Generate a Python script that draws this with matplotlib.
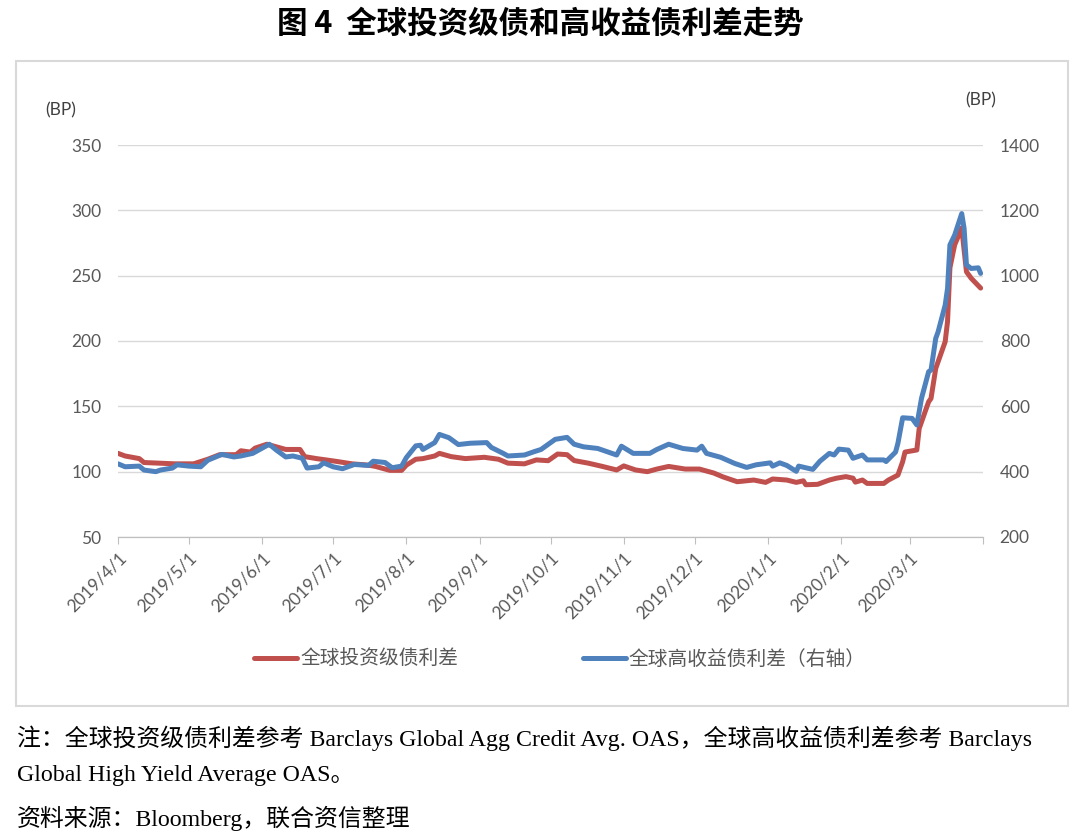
import pandas as pd
import matplotlib.pyplot as plt
from matplotlib.patches import Rectangle
from matplotlib.lines import Line2D

plt.rcParams['font.family'] = ['Lato', 'Noto Sans CJK SC', 'DejaVu Sans']

# 全球投资级债利差 (left axis, BP)
ig_dates = ["2019-04-01", "2019-04-04", "2019-04-10", "2019-04-12", "2019-04-25", "2019-05-03",
            "2019-05-09", "2019-05-14", "2019-05-21", "2019-05-23", "2019-05-27", "2019-05-29",
            "2019-06-03", "2019-06-07", "2019-06-11", "2019-06-17", "2019-06-19", "2019-06-24",
            "2019-06-28", "2019-07-03", "2019-07-09", "2019-07-16", "2019-07-19", "2019-07-25",
            "2019-07-30", "2019-08-01", "2019-08-05", "2019-08-08", "2019-08-13", "2019-08-15",
            "2019-08-20", "2019-08-26", "2019-09-03", "2019-09-09", "2019-09-13", "2019-09-20",
            "2019-09-25", "2019-09-30", "2019-10-04", "2019-10-08", "2019-10-11", "2019-10-17",
            "2019-10-23", "2019-10-29", "2019-11-01", "2019-11-06", "2019-11-11", "2019-11-15",
            "2019-11-20", "2019-11-27", "2019-12-03", "2019-12-09", "2019-12-13", "2019-12-19",
            "2019-12-26", "2019-12-31", "2020-01-03", "2020-01-09", "2020-01-13", "2020-01-16",
            "2020-01-17", "2020-01-22", "2020-01-27", "2020-01-30", "2020-02-03", "2020-02-06",
            "2020-02-07", "2020-02-10", "2020-02-12", "2020-02-19", "2020-02-21", "2020-02-25",
            "2020-02-27", "2020-02-28", "2020-03-04", "2020-03-05", "2020-03-09", "2020-03-10",
            "2020-03-12", "2020-03-16", "2020-03-17", "2020-03-18", "2020-03-20", "2020-03-23",
            "2020-03-25", "2020-03-27", "2020-03-31"]
ig_values = [114, 112, 110, 107, 106, 106,
             109.5, 113, 113, 116, 115, 118,
             121, 119, 117, 117, 111.5, 110,
             109, 107.7, 106, 105, 104, 101,
             101, 105, 109.5, 110, 112, 114,
             111.5, 110, 111, 109.5, 106.5, 106,
             109, 108.4, 113.5, 113, 108.5, 106.5,
             104, 101.3, 104.4, 101.3, 100, 102,
             104, 102, 102, 99, 96, 92.3,
             93.6, 91.8, 94.4, 93.6, 91.8, 93,
             90, 90.3, 93.6, 95, 96.2, 95,
             92, 93.6, 91, 91, 93.6, 97.4,
             107.6, 115, 116.6, 133, 153.5, 156,
             179, 199.5, 215, 256, 273.5, 286.5,
             253, 248, 240.5]

# 全球高收益债利差 (right axis, BP)
hy_dates = ["2019-04-01", "2019-04-04", "2019-04-10", "2019-04-12", "2019-04-17", "2019-04-19",
            "2019-04-24", "2019-04-26", "2019-05-01", "2019-05-06", "2019-05-09", "2019-05-15",
            "2019-05-20", "2019-05-23", "2019-05-28", "2019-05-31", "2019-06-04", "2019-06-07",
            "2019-06-11", "2019-06-14", "2019-06-18", "2019-06-20", "2019-06-25", "2019-06-27",
            "2019-07-01", "2019-07-05", "2019-07-10", "2019-07-16", "2019-07-18", "2019-07-23",
            "2019-07-26", "2019-07-30", "2019-08-01", "2019-08-05", "2019-08-07", "2019-08-08",
            "2019-08-13", "2019-08-15", "2019-08-19", "2019-08-23", "2019-08-28", "2019-09-04",
            "2019-09-06", "2019-09-11", "2019-09-13", "2019-09-20", "2019-09-24", "2019-09-27",
            "2019-10-03", "2019-10-08", "2019-10-11", "2019-10-15", "2019-10-21", "2019-10-25",
            "2019-10-29", "2019-10-31", "2019-11-05", "2019-11-12", "2019-11-15", "2019-11-20",
            "2019-11-26", "2019-12-02", "2019-12-04", "2019-12-06", "2019-12-12", "2019-12-18",
            "2019-12-23", "2019-12-27", "2020-01-02", "2020-01-03", "2020-01-06", "2020-01-09",
            "2020-01-13", "2020-01-14", "2020-01-20", "2020-01-23", "2020-01-27", "2020-01-29",
            "2020-01-31", "2020-02-04", "2020-02-06", "2020-02-10", "2020-02-12", "2020-02-19",
            "2020-02-20", "2020-02-24", "2020-02-25", "2020-02-27", "2020-03-02", "2020-03-04",
            "2020-03-06", "2020-03-09", "2020-03-10", "2020-03-12", "2020-03-13", "2020-03-16",
            "2020-03-17", "2020-03-18", "2020-03-20", "2020-03-23", "2020-03-24", "2020-03-25",
            "2020-03-27", "2020-03-30", "2020-03-31"]
hy_values = [424, 415, 417, 405, 400, 405,
             411, 421, 417, 415, 435, 453,
             445, 448, 456, 468, 484, 466,
             445, 448, 441, 411, 415, 427,
             415, 409, 422, 419, 432, 428,
             412, 417, 443, 479, 481, 468,
             489, 514, 504, 483, 487, 489,
             474, 456, 448, 451, 461, 468,
             499, 505, 484, 476, 471, 461,
             451, 478, 456, 456, 468, 484,
             471, 466, 478, 456, 444, 425,
             413, 421, 427, 417, 427, 419,
             401, 417, 407, 432, 456, 451,
             469, 466, 441, 451, 436, 436,
             431, 460, 487, 565, 563, 543,
             625, 706, 711, 808, 828, 910,
             961, 1094, 1124, 1190, 1145, 1033,
             1022, 1024, 1007]

month_ticks = pd.date_range("2019-04-01", "2020-04-01", freq="MS")
tick_labels = [f"{d.year}/{d.month}/1" for d in month_ticks[:-1]] + [""]

red = '#C0504D'
blue = '#4F81BD'
grey = '#595959'

fig = plt.figure(figsize=(10.8, 8.4), dpi=100)
fig.patches.append(Rectangle((16/1080, 1-706/840), 1052/1080, 645/840, transform=fig.transFigure,
                             fill=False, edgecolor='#D9D9D9', lw=1.5))

ax = fig.add_axes([118/1080, 1-537/840, 865/1080, 392/840])
ax2 = ax.twinx()

ax.plot(pd.to_datetime(ig_dates), ig_values, color=red, lw=3.6, solid_capstyle='round')
ax2.plot(pd.to_datetime(hy_dates), hy_values, color=blue, lw=3.6, solid_capstyle='round')

ax.set_xlim(month_ticks[0], month_ticks[-1])
ax.set_ylim(50, 350)
ax2.set_ylim(200, 1400)
ax.set_yticks(range(50, 351, 50))
ax2.set_yticks(range(200, 1401, 200))
ax.set_xticks(month_ticks)
ax.set_xticklabels(tick_labels, rotation=45, ha='right', rotation_mode='anchor')

ax.grid(axis='y', color='#D9D9D9', lw=1)
ax.set_axisbelow(True)
for a in (ax, ax2):
    for s in ('left', 'right', 'top'):
        a.spines[s].set_visible(False)
    a.spines['bottom'].set_color('#BFBFBF')
ax.tick_params(axis='y', length=0, pad=12, labelsize=12.5, labelcolor=grey)
ax2.tick_params(axis='y', length=0, pad=12, labelsize=12.5, labelcolor=grey)
ax.tick_params(axis='x', length=5, color='#BFBFBF', labelsize=12.5, labelcolor=grey, pad=4)

fig.text(45/1080, 1-110/840, "(BP)", fontsize=12.5, color='#404040', va='center')
fig.text(965/1080, 1-100/840, "(BP)", fontsize=12.5, color='#404040', va='center')

handles = [Line2D([], [], color=red, lw=3.6, solid_capstyle='round'),
           Line2D([], [], color=blue, lw=3.6, solid_capstyle='round')]
leg = fig.legend(handles, ["全球投资级债利差", "全球高收益债利差（右轴）"], ncol=2, frameon=False,
                 loc='center', bbox_to_anchor=(560/1080, 1-659/840), handlelength=2.2,
                 handletextpad=0.15, columnspacing=6.3,
                 prop={'family': 'Noto Sans CJK SC', 'size': 14.2})
for t in leg.get_texts():
    t.set_color(grey)

fig.text(540/1080, 1-24/840, "图 4  全球投资级债和高收益债利差走势", ha='center', va='center',
         fontsize=22, fontweight='bold', family=['Noto Sans CJK SC'])

note_font = ['Liberation Serif', 'Noto Sans CJK SC']
fig.text(17/1080, 1-738/840,
         "注：全球投资级债利差参考 Barclays Global Agg Credit Avg. OAS，全球高收益债利差参考 Barclays",
         fontsize=17.2, family=note_font, va='center')
fig.text(17/1080, 1-776/840, "Global High Yield Average OAS。", fontsize=17.2, family=note_font, va='center')
fig.text(17/1080, 1-818/840, "资料来源：Bloomberg，联合资信整理", fontsize=17.2, family=note_font, va='center')

fig.savefig("out.png", dpi=100)
